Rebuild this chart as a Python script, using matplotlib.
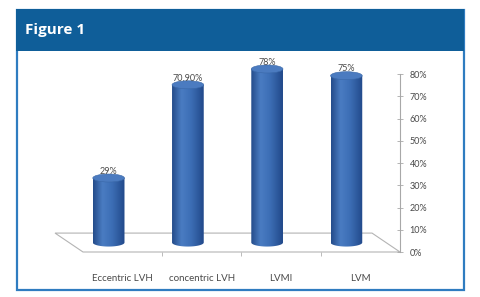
""" Figure 1: LVH / LVM percentages as 3D-style cylinder bars """

import matplotlib.pyplot as plt
import numpy as np
from matplotlib.patches import Rectangle, Polygon, Ellipse, PathPatch
from matplotlib.path import Path
from matplotlib.colors import LinearSegmentedColormap

categories = ['Eccentric LVH', 'concentric LVH', 'LVMI', 'LVM']
values = [29, 70.9, 78, 75]
value_labels = ['29%', '70.90%', '78%', '75%']
yticks = [0, 10, 20, 30, 40, 50, 60, 70, 80]

W, H = 480, 297
fig = plt.figure(figsize=(4.8, 2.97), dpi=100)

# frame + header band, drawn in pixel coords
bg = fig.add_axes([0, 0, 1, 1])
bg.set_xlim(0, W)
bg.set_ylim(H, 0)
bg.axis('off')
bg.add_patch(Rectangle((16.5, 9.5), 447, 280.5, fc='white', ec='#2f7cc0', lw=1.6))
bg.add_patch(Rectangle((15.7, 8.7), 448.6, 42, fc='#0f5e99', ec='none'))
bg.text(25, 30, 'Figure 1', color='white', fontsize=11, fontweight='bold',
        family='Open Sans', va='center')

# chart area: 0..90 so the tall cylinders are not cut, axis line only to 80
ymax = 90
ax = fig.add_axes([83 / W, 1 - 252 / H, 317 / W, 178 / 80 * ymax / H])
ax.patch.set_alpha(0)
for s in ['left', 'top', 'bottom']:
    ax.spines[s].set_visible(False)
ax.spines['right'].set_color('#a8a8a8')
ax.spines['right'].set_linewidth(0.8)
ax.spines['right'].set_bounds(0, 80)

txt = '#4a4a4a'
ax.yaxis.tick_right()
ax.set_yticks(yticks)
ax.set_yticklabels([f'{t}%' for t in yticks], family='Lato')
ax.tick_params(axis='y', direction='inout', length=4, width=0.6, color='#a8a8a8',
               labelsize=6.5, labelcolor=txt, pad=5)
ax.set_xticks(range(len(categories)))
ax.set_xticklabels(categories, family='Lato')
ax.set_xticks([0.5, 1.5, 2.5], minor=True)
ax.tick_params(axis='x', which='major', length=0, labelsize=7, labelcolor=txt, pad=16)
ax.tick_params(axis='x', which='minor', length=3, width=0.6, color='#b0b0b0', direction='out')

# floor (3D depth offset)
dx, dy = -0.353, 8.5
floor = Polygon([(-0.5, 0), (3.5, 0), (3.5 + dx, dy), (-0.5 + dx, dy)], closed=True,
                fc='none', ec='#b4b4b4', lw=0.8, clip_on=False)
ax.add_patch(floor)

cmap = LinearSegmentedColormap.from_list(
    'cyl', [(0, '#244c8a'), (0.3, '#4a7cc2'), (0.6, '#3c6eb5'), (1, '#22498a')])
grad = np.linspace(0, 1, 128).reshape(1, -1)

rx, ry = 0.2, 1.8
base = dy / 2
for i, v in enumerate(values):
    cx = i + dx / 2
    top = v + base
    t = np.linspace(np.pi, 2 * np.pi, 40)
    verts = [(cx - rx, top), (cx - rx, base)]
    verts += list(zip(cx + rx * np.cos(t), base + ry * np.sin(t)))
    verts += [(cx + rx, top), (cx - rx, top)]
    clip = PathPatch(Path(verts, closed=True), fc='none', ec='none', transform=ax.transData)
    ax.add_patch(clip)
    im = ax.imshow(grad, cmap=cmap, aspect='auto', extent=[cx - rx, cx + rx, base - ry, top],
                   zorder=2)
    im.set_clip_path(clip)
    ax.add_patch(Ellipse((cx, top), 2 * rx, 2 * ry, fc='#4b7bc0', ec='#3a68a8', lw=0.4, zorder=3))
    ax.text(cx, top + ry - 0.8, value_labels[i], ha='center', va='bottom', fontsize=6.5,
            color=txt, family='Lato', zorder=4)

ax.set_xlim(-0.5, 3.5)
ax.set_ylim(0, ymax)

fig.savefig('out.png', dpi=100)
